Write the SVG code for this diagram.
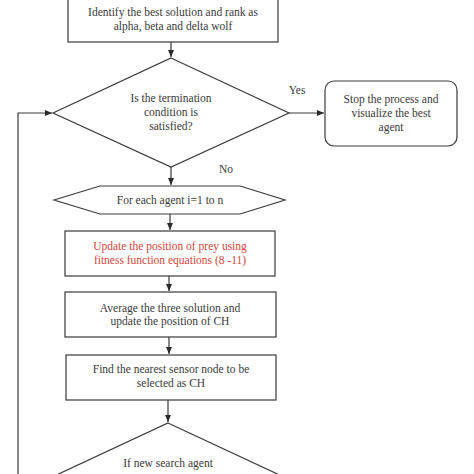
<svg xmlns="http://www.w3.org/2000/svg" width="474" height="474" viewBox="0 0 474 474">
<style>
.s{fill:#fff;stroke:#3a3a3a;stroke-width:1.2}
.t{font-family:"Liberation Serif",serif;font-size:11.5px;fill:#3a3a3a;text-anchor:middle}
.r{fill:#d4463c}
.c{fill:none;stroke:#3a3a3a;stroke-width:1.2}
</style>
<defs>
<marker id="a" markerWidth="8" markerHeight="8" refX="7" refY="4" orient="auto" markerUnits="userSpaceOnUse">
<path d="M0,1 L7,4 L0,7 Z" fill="#2a2a2a"/>
</marker>
</defs>
<rect width="474" height="474" fill="#fff"/>
<g id="connectors">
<line class="c" x1="171" y1="42" x2="171" y2="57" marker-end="url(#a)"/>
<line class="c" x1="289" y1="113" x2="324" y2="113" marker-end="url(#a)"/>
<line class="c" x1="171" y1="167" x2="171" y2="185" marker-end="url(#a)"/>
<line class="c" x1="170" y1="214" x2="170" y2="230" marker-end="url(#a)"/>
<line class="c" x1="169" y1="276" x2="169" y2="291" marker-end="url(#a)"/>
<line class="c" x1="169" y1="337" x2="169" y2="354" marker-end="url(#a)"/>
<line class="c" x1="168" y1="400" x2="168" y2="422" marker-end="url(#a)"/>
<polyline class="c" points="18,480 18,113 52,113" marker-end="url(#a)"/>
<text class="t" x="297" y="94">Yes</text>
<text class="t" x="226" y="173">No</text>
</g>
<g id="n1">
<rect class="s" x="68" y="-10" width="210" height="52"/>
<text class="t" x="173" y="16">Identify the best solution and rank as</text>
<text class="t" x="173" y="30">alpha, beta and delta wolf</text>
</g>
<g id="n2">
<polygon class="s" points="171,58 289,113 171,167 53,113"/>
<text class="t" x="171" y="102">Is the termination</text>
<text class="t" x="171" y="116">condition is</text>
<text class="t" x="171" y="130">satisfied?</text>
</g>
<g id="n3">
<rect class="s" x="325" y="81" width="132" height="65" rx="9"/>
<text class="t" x="391" y="103">Stop the process and</text>
<text class="t" x="391" y="117">visualize the best</text>
<text class="t" x="391" y="131">agent</text>
</g>
<g id="n4">
<polygon class="s" points="54,200 100,186 240,186 285,200 240,214 100,214"/>
<text class="t" x="170" y="204">For each agent i=1 to n</text>
</g>
<g id="n5">
<rect class="s" x="65" y="231" width="210" height="45"/>
<text class="t r" x="170" y="250">Update the position of prey using</text>
<text class="t r" x="170" y="264">fitness function equations (8 -11)</text>
</g>
<g id="n6">
<rect class="s" x="65" y="292" width="211" height="45"/>
<text class="t" x="170" y="312">Average the three solution and</text>
<text class="t" x="170" y="325">update the position of CH</text>
</g>
<g id="n7">
<rect class="s" x="66" y="355" width="210" height="45"/>
<text class="t" x="171" y="373">Find the nearest sensor node to be</text>
<text class="t" x="171" y="387">selected as CH</text>
</g>
<g id="n8">
<polygon class="s" points="168,423 286,478 168,533 50,478"/>
<text class="t" x="168" y="467">If new search agent</text>
</g>
</svg>
